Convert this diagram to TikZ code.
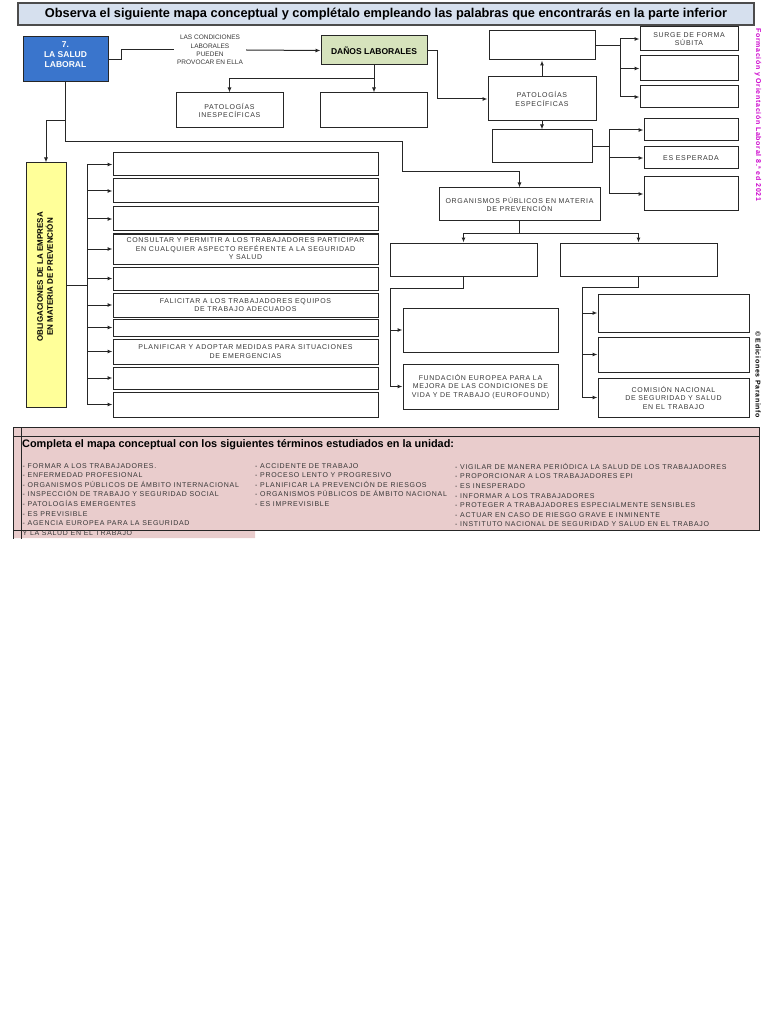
\documentclass[tikz,border=0pt]{standalone}
\usepackage{fontspec}
\setmainfont{Liberation Sans}
\newfontfamily\boxfont[LetterSpace=10]{Liberation Sans}
\usetikzlibrary{positioning, arrows.meta}

\definecolor{headblue}{RGB}{214,224,238}
\definecolor{saludblue}{RGB}{58,117,204}
\definecolor{danosgreen}{RGB}{214,227,188}
\definecolor{obliyellow}{RGB}{255,255,153}
\definecolor{panelpink}{RGB}{233,204,204}
\definecolor{edmagenta}{RGB}{204,0,204}
\definecolor{txtgray}{RGB}{55,55,55}

\begin{document}
\begin{tikzpicture}[x=1pt, y=-1pt, >={Latex[length=5pt,width=4pt]},
    sz/.style 2 args={minimum width=#1pt, minimum height=#2pt}]

		\tikzstyle{box} = [rectangle, draw=black!85, line width=1pt, inner sep=2pt, align=center, text=txtgray, font=\boxfont\fontsize{7}{8.5}\selectfont]
		\tikzstyle{line} = [draw=black!85, line width=1pt]
		\tikzstyle{listtxt} = [anchor=north west, align=left, inner sep=0pt, text=txtgray, font=\boxfont\fontsize{7}{9.6}\selectfont]
		\tikzstyle{sidetxt} = [rotate=-90, anchor=west, inner sep=0pt, font=\boxfont\bfseries\fontsize{7}{8}\selectfont]

		\useasboundingbox (0,0) rectangle (768,1024);

		% Title and panel
		\node[fill=headblue, draw=black!70, line width=1.1pt, sz={736}{22}, font=\bfseries\fontsize{12.8}{14}\selectfont] (title) at (386,14) {Observa el siguiente mapa conceptual y complétalo empleando las palabras que encontrarás en la parte inferior};
		\fill[panelpink] (13,427) -- (759,427) -- (759,530) -- (255,530) -- (255,538) -- (13,538) -- cycle;
		\node[draw=black!85, line width=1pt, sz={746}{103}, anchor=north west] (panel) at (13,427) {};
		\draw[line] ([yshift=-9pt]panel.north west) -- ([yshift=-9pt]panel.north east);
		\draw[line] ([xshift=8pt]panel.north west) -- ([xshift=8pt, yshift=-8pt]panel.south west);
		\draw[line] (panel.south west) -- ++(0,8);

		% Define nodes
		\node[box, fill=saludblue, text=white, sz={85}{45}, font=\bfseries\fontsize{8.5}{10}\selectfont] (salud) at (65.5,59.5) {7.\\LA SALUD\\LABORAL\\\rule{0pt}{0pt}};
		\node[align=center, inner sep=3pt, text=txtgray, font=\fontsize{6.5}{8.2}\selectfont] (cond) at (210,50) {LAS CONDICIONES\\LABORALES\\PUEDEN\\PROVOCAR EN ELLA};
		\node[box, fill=danosgreen, text=black, sz={106}{29}, font=\bfseries\fontsize{8.5}{10}\selectfont] (danos) at (374,50.5) {DAÑOS LABORALES};
		\node[box, sz={107}{35}] (inesp) at (229.5,110.5) {PATOLOGÍAS\\INESPECÍFICAS};
		\node[box, sz={107}{35}] (danos2) at (374,110.5) {};

		\node[box, sz={106}{29}] (top) at (542,45.5) {};
		\node[box, sz={108}{44}] (esp) at (542,99) {PATOLOGÍAS\\ESPECÍFICAS};
		\node[box, sz={100}{33}] (bot) at (542,146.5) {};
		\node[box, sz={98}{24}] (surge) at (689,39) {SURGE DE FORMA\\SÚBITA};
		\node[box, sz={98}{25}] (surge2) at (689,68.5) {};
		\node[box, sz={98}{22}] (surge3) at (689,97) {};
		\node[box, sz={94}{22}] (tipo1) at (691,130) {};
		\node[box, sz={94}{22}] (esperada) at (691,158) {ES ESPERADA};
		\node[box, sz={94}{34}] (tipo3) at (691,194) {};

		\node[box, sz={161}{33}] (org) at (519.5,204.5) {ORGANISMOS PÚBLICOS EN MATERIA\\DE PREVENCIÓN};
		\node[box, sz={147}{33}] (orgint) at (463.5,259.5) {};
		\node[box, sz={157}{33}] (orgnac) at (638.5,259.5) {};
		\node[box, sz={155}{44}] (int1) at (480.5,330) {};
		\node[box, sz={155}{45}] (fund) at (480.5,386.5) {FUNDACIÓN EUROPEA PARA LA\\MEJORA DE LAS CONDICIONES DE\\VIDA Y DE TRABAJO (EUROFOUND)};
		\node[box, sz={151}{38}] (nac1) at (673.5,313) {};
		\node[box, sz={151}{35}] (nac2) at (673.5,354.5) {};
		\node[box, sz={151}{39}] (comision) at (673.5,397.5) {COMISIÓN NACIONAL\\DE SEGURIDAD Y SALUD\\EN EL TRABAJO};

		\node[box, fill=obliyellow, text=black, sz={40}{244}, font=\bfseries\fontsize{8}{9.5}\selectfont] (oblig) at (46,285) {\rotatebox{90}{\hspace{16pt}\begin{tabular}{@{}c@{}}OBLIGACIONES DE LA EMPRESA\\EN MATERIA DE PREVENCIÓN\end{tabular}}};
		\node[box, sz={265}{23}] (ob1) at (245.5,164.5) {};
		\node[box, sz={265}{24}] (ob2) at (245.5,191) {};
		\node[box, sz={265}{24}] (ob3) at (245.5,219) {};
		\node[box, sz={265}{30}] (ob4) at (245.5,249) {CONSULTAR Y PERMITIR A LOS TRABAJADORES PARTICIPAR\\EN CUALQUIER ASPECTO REFÉRENTE A LA SEGURIDAD\\Y SALUD};
		\node[box, sz={265}{23}] (ob5) at (245.5,278.5) {};
		\node[box, sz={265}{24}] (ob6) at (245.5,305) {FALICITAR A LOS TRABAJADORES EQUIPOS\\DE TRABAJO ADECUADOS};
		\node[box, sz={265}{17}] (ob7) at (245.5,327.5) {};
		\node[box, sz={265}{25}] (ob8) at (245.5,351.5) {PLANIFICAR Y ADOPTAR MEDIDAS PARA SITUACIONES\\DE EMERGENCIAS};
		\node[box, sz={265}{22}] (ob9) at (245.5,378) {};
		\node[box, sz={265}{25}] (ob10) at (245.5,404.5) {};

		% Side texts
		\node[sidetxt, text=edmagenta] (edition) at (758,28) {Formación y Orientación Laboral 8.ª ed 2021};
		\node[sidetxt, text=black] (publisher) at (758,331) {© Ediciones Paraninfo};

		% Word list
		\node[anchor=west, inner sep=1pt, font=\bfseries\fontsize{10.9}{12}\selectfont] (instr) at (21,445) {Completa el mapa conceptual con los siguientes términos estudiados en la unidad:};
		\node[listtxt] (col1) at (22.5,463) {- FORMAR A LOS TRABAJADORES.\\- ENFERMEDAD PROFESIONAL\\- ORGANISMOS PÚBLICOS DE ÁMBITO INTERNACIONAL\\- INSPECCIÓN DE TRABAJO Y SEGURIDAD SOCIAL\\- PATOLOGÍAS EMERGENTES\\- ES PREVISIBLE\\- AGENCIA EUROPEA PARA LA SEGURIDAD\\Y LA SALUD EN EL TRABAJO};
		\node[listtxt] (col2) at (255,463) {- ACCIDENTE DE TRABAJO\\- PROCESO LENTO Y PROGRESIVO\\- PLANIFICAR LA PREVENCIÓN DE RIESGOS\\- ORGANISMOS PÚBLICOS DE ÁMBITO NACIONAL\\- ES IMPREVISIBLE};
		\node[listtxt] (col3) at (455,463) {- VIGILAR DE MANERA PERIÓDICA LA SALUD DE LOS TRABAJADORES\\- PROPORCIONAR A LOS TRABAJADORES EPI\\- ES INESPERADO\\- INFORMAR A LOS TRABAJADORES\\- PROTEGER A TRABAJADORES ESPECIALMENTE SENSIBLES\\- ACTUAR EN CASO DE RIESGO GRAVE E INMINENTE\\- INSTITUTO NACIONAL DE SEGURIDAD Y SALUD EN EL TRABAJO};

		% Draw arrows
		\draw[line] (salud.east) -- ++(13,0) |- (cond.west);
		\draw[line, ->] (cond.east) -- (danos.west);
		\draw[line] (danos.south) -- ++(0,13) coordinate (d1);
		\draw[line, ->] (d1) -| (inesp.north);
		\draw[line, ->] (d1) -- (danos2.north);
		\draw[line, ->] (danos.east) -- ++(10,0) |- (esp.west);
		\draw[line, ->] (esp.north) -- (top.south);
		\draw[line, ->] (esp.south) -- (bot.north);

		\draw[line] (top.east) -- ++(25,0) coordinate (t1);
		\draw[line, ->] (t1) |- (surge.west);
		\draw[line, ->] (t1) |- (surge2.west);
		\draw[line, ->] (t1) |- (surge3.west);
		\draw[line] (bot.east) -- ++(17,0) coordinate (b1);
		\draw[line, ->] (b1) |- (tipo1.west);
		\draw[line, ->] (b1) |- (esperada.west);
		\draw[line, ->] (b1) |- (tipo3.west);

		\draw[line] (salud.south) -- ++(0,38.5) coordinate (s1);
		\draw[line, ->] (s1) -| (oblig.north);
		\draw[line, ->] (s1) |- (402,142) -- (402,172) -| (org.north);

		\draw[line] (oblig.east) -- ++(21,0) coordinate (o1);
		\foreach \i in {1,...,10}
			\draw[line, ->] (o1) |- (ob\i.west);

		\draw[line] (org.south) -- ++(0,12) coordinate (g1);
		\draw[line, ->] (g1) -| (orgint.north);
		\draw[line, ->] (g1) -| (orgnac.north);
		\draw[line] (orgint.south) |- (390,288) coordinate (p1);
		\draw[line, ->] (p1) |- (int1.west);
		\draw[line, ->] (p1) |- (fund.west);
		\draw[line] (orgnac.south) |- (582,287) coordinate (q1);
		\draw[line, ->] (q1) |- (nac1.west);
		\draw[line, ->] (q1) |- (nac2.west);
		\draw[line, ->] (q1) |- (comision.west);

	\end{tikzpicture}
\end{document}
